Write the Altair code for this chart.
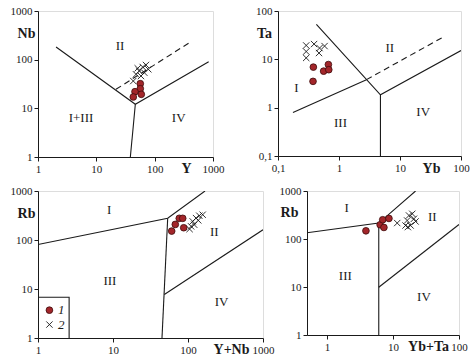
import altair as alt
import pandas as pd

FONT = "Liberation Serif"
RED = "#a3262a"
RED_EDGE = "#3d0c0c"
INK = "#1a1a1a"

# ---------------- Panel 1: Nb vs Y ----------------
p1_circ_x = [56.7, 56.7, 59, 46, 43]
p1_circ_y = [32.1, 25.3, 19.4, 22, 17.1]
p1_cross_x = [43, 47.9, 54.5, 62.4, 71, 77.8, 66.4, 58.3, 51.2]
p1_cross_y = [36.4, 50, 58.5, 70.7, 77.8, 63.4, 54, 46.1, 66.5]
p1_lines_x = [[2.04, 46.6, 843], [46.6, 38.3]]
p1_lines_y = [[182, 12.1, 91], [12.1, 1]]
p1_dash_x = [21.7, 393]
p1_dash_y = [24.6, 223]
p1_lab_text = ["II", "I+III", "IV"]
p1_lab_x = [25.5, 5.46, 258]
p1_lab_y = [190, 6.4, 6.4]

# ---------------- Panel 2: Ta vs Yb ----------------
p2_circ_x = [0.38, 0.375, 0.56, 0.67, 0.68]
p2_circ_y = [6.9, 3.5, 5.7, 7.8, 6.1]
p2_cross_x = [0.29, 0.29, 0.29, 0.39, 0.48, 0.47, 0.58]
p2_cross_y = [19.4, 14.5, 10.7, 20.7, 17.1, 13.5, 18.8]
p2_lines_x = [[0.426, 4.78, 100], [4.78, 4.78], [0.176, 2.82]]
p2_lines_y = [[52.8, 1.85, 15.2], [1.85, 0.1], [0.796, 3.8]]
p2_dash_x = [2.82, 54.6]
p2_dash_y = [3.8, 30.3]
p2_lab_text = ["II", "I", "III", "IV"]
p2_lab_x = [6.8, 0.2, 1.06, 24]
p2_lab_y = [17, 2.5, 0.48, 0.82]

# ---------------- Panel 3: Rb vs Y+Nb ----------------
p3_circ_x = [60.6, 67.7, 76.5, 85, 87.7]
p3_circ_y = [152, 208, 277, 277, 178]
p3_cross_x = [105, 110, 115.5, 121, 128, 137, 141.5, 157]
p3_cross_y = [167, 190, 240, 205, 280, 252, 313, 328]
p3_lines_x = [[1, 53.6, 168.6], [53.6, 45], [48.3, 1000]]
p3_lines_y = [[81, 277, 1000], [277, 1], [7.7, 162]]
p3_box_x = [1, 2.6, 2.6]
p3_box_y = [6.8, 6.8, 1]
p3_leg_x = [1.42, 1.42]
p3_leg_y = [3.7, 1.88]
p3_leg_text = ["1", "2"]
p3_leg_tx = [1.85, 1.85]
p3_lab_text = ["I", "III", "II", "IV"]
p3_lab_x = [8.9, 9.1, 224, 281]
p3_lab_y = [403, 14.4, 147, 5.4]

# ---------------- Panel 4: Rb vs Yb+Ta ----------------
p4_circ_x = [3.9, 6.4, 7.0, 8.7, 7.3]
p4_circ_y = [148, 198, 252, 268, 174]
p4_cross_x = [11.6, 15.5, 16.4, 17.5, 19.6, 20.8, 22, 18.5, 16.8]
p4_cross_y = [215, 191, 243, 309, 335, 264, 232, 191, 177]
p4_lines_x = [[0.5, 6.1, 22], [6.1, 6.1], [6.1, 100]]
p4_lines_y = [[135, 215, 1000], [215, 1], [9.9, 201]]
p4_lab_text = ["I", "III", "II", "IV"]
p4_lab_x = [2.0, 1.9, 39.4, 29.5]
p4_lab_y = [442, 16.8, 287, 6.1]

X_SHAPE = "M -1 -1 L 1 1 M 1 -1 L -1 1"
CIRC_SIZE = 45
CROSS_SIZE = 40


def seg_frame(xs_list, ys_list):
    rows = []
    for s, (xs, ys) in enumerate(zip(xs_list, ys_list)):
        for o, (x, y) in enumerate(zip(xs, ys)):
            rows.append({"x": x, "y": y, "seg": s, "o": o})
    return pd.DataFrame(rows)


def panel(w, h, xdom, ydom, xvals, yvals, xtitle, xtx, xty, ytitle, ytx, yty,
          circ, cross, lines, dash, labels, comma=False, extra=None):
    xs = alt.Scale(type="log", domain=xdom, nice=False)
    ys = alt.Scale(type="log", domain=ydom, nice=False)
    lab_expr = "datum.value < 1 ? '0,1' : format(datum.value, 'd')" if comma else "format(datum.value, 'd')"
    common = dict(grid=False, tickSize=4, labelPadding=2, labelFont=FONT, labelFontSize=11,
                  labelColor=INK, titleFont=FONT, titleFontSize=14, titleFontWeight="bold",
                  titleColor=INK, titleAngle=0, titleAlign="center", titleBaseline="middle",
                  labelOverlap=False, labelFlush=False, domainColor=INK, tickColor=INK,
                  labelExpr=lab_expr)
    xax = alt.Axis(values=xvals, title=xtitle, titleX=xtx, titleY=xty, **common)
    yax = alt.Axis(values=yvals, title=ytitle, titleX=ytx, titleY=yty, **common)
    X = lambda: alt.X("x:Q", scale=xs, axis=xax)
    Y = lambda: alt.Y("y:Q", scale=ys, axis=yax)

    layers = []
    ldf = seg_frame(*lines)
    layers.append(alt.Chart(ldf).mark_line(color=INK, strokeWidth=1.1, clip=True).encode(
        x=X(), y=Y(), detail="seg:N", order="o:Q"))
    if dash is not None:
        ddf = seg_frame([dash[0]], [dash[1]])
        layers.append(alt.Chart(ddf).mark_line(color=INK, strokeWidth=1.1, strokeDash=[6, 4], clip=True).encode(
            x=X(), y=Y(), detail="seg:N", order="o:Q"))
    tdf = pd.DataFrame({"x": labels[1], "y": labels[2], "t": labels[0]})
    layers.append(alt.Chart(tdf).mark_text(font=FONT, fontSize=13, color=INK).encode(
        x=X(), y=Y(), text="t:N"))
    cdf = pd.DataFrame({"x": cross[0], "y": cross[1]})
    layers.append(alt.Chart(cdf).mark_point(shape=X_SHAPE, size=CROSS_SIZE, color=INK, strokeWidth=0.9,
                                            filled=False, opacity=1).encode(x=X(), y=Y()))
    pdf = pd.DataFrame({"x": circ[0], "y": circ[1]})
    layers.append(alt.Chart(pdf).mark_point(shape="circle", size=CIRC_SIZE, filled=True, fill=RED,
                                            stroke=RED_EDGE, strokeWidth=0.8, opacity=1).encode(x=X(), y=Y()))
    if extra is not None:
        for e in extra:
            layers.append(e(X, Y))
    return alt.layer(*layers).properties(width=w, height=h)


p1 = panel(175, 146, [1, 1000], [1, 1000], [1, 10, 100, 1000], [1, 10, 100, 1000],
           "Y", 148, 11, "Nb", -12, 22,
           (p1_circ_x, p1_circ_y), (p1_cross_x, p1_cross_y),
           (p1_lines_x, p1_lines_y), (p1_dash_x, p1_dash_y),
           (p1_lab_text, p1_lab_x, p1_lab_y))

p2 = panel(183, 145, [0.1, 100], [0.1, 100], [0.1, 1, 10, 100], [0.1, 1, 10, 100],
           "Yb", 153, 12, "Ta", -14, 22,
           (p2_circ_x, p2_circ_y), (p2_cross_x, p2_cross_y),
           (p2_lines_x, p2_lines_y), (p2_dash_x, p2_dash_y),
           (p2_lab_text, p2_lab_x, p2_lab_y), comma=True)


def box_layer(X, Y):
    df = seg_frame([p3_box_x], [p3_box_y])
    return alt.Chart(df).mark_line(color=INK, strokeWidth=1.1).encode(x=X(), y=Y(), detail="seg:N", order="o:Q")


def leg_circle(X, Y):
    df = pd.DataFrame({"x": p3_leg_x[:1], "y": p3_leg_y[:1]})
    return alt.Chart(df).mark_point(shape="circle", size=CIRC_SIZE, filled=True, fill=RED, stroke=RED_EDGE,
                                    strokeWidth=0.8, opacity=1).encode(x=X(), y=Y())


def leg_cross(X, Y):
    df = pd.DataFrame({"x": p3_leg_x[1:], "y": p3_leg_y[1:]})
    return alt.Chart(df).mark_point(shape=X_SHAPE, size=CROSS_SIZE, color=INK, strokeWidth=0.9,
                                    filled=False, opacity=1).encode(x=X(), y=Y())


def leg_text(X, Y):
    df = pd.DataFrame({"x": p3_leg_tx, "y": p3_leg_y, "t": p3_leg_text})
    return alt.Chart(df).mark_text(font=FONT, fontSize=13, fontStyle="italic", color=INK,
                                   align="left").encode(x=X(), y=Y(), text="t:N")


p3 = panel(225, 147, [1, 1000], [1, 1000], [1, 10, 100, 1000], [1, 10, 100, 1000],
           "Y+Nb", 193, 11, "Rb", -12, 22,
           (p3_circ_x, p3_circ_y), (p3_cross_x, p3_cross_y),
           (p3_lines_x, p3_lines_y), None,
           (p3_lab_text, p3_lab_x, p3_lab_y),
           extra=[box_layer, leg_circle, leg_cross, leg_text])

p4 = panel(152, 144, [0.5, 100], [1, 1000], [1, 10, 100], [1, 10, 100, 1000],
           "Yb+Ta", 121, 11, "Rb", -18, 21,
           (p4_circ_x, p4_circ_y), (p4_cross_x, p4_cross_y),
           (p4_lines_x, p4_lines_y), None,
           (p4_lab_text, p4_lab_x, p4_lab_y))

row1 = alt.hconcat(p1, p2, spacing=65, bounds="flush")
row2 = alt.hconcat(p3, p4, spacing=44, bounds="flush")
chart = alt.vconcat(row1, row2, spacing=8).properties(
    padding={"left": 9, "top": 4, "right": 0, "bottom": 0}
).configure_view(stroke=INK, strokeWidth=1.2).configure(background="white")

chart.save("out.html", embed_options={"renderer": "svg", "actions": False})
